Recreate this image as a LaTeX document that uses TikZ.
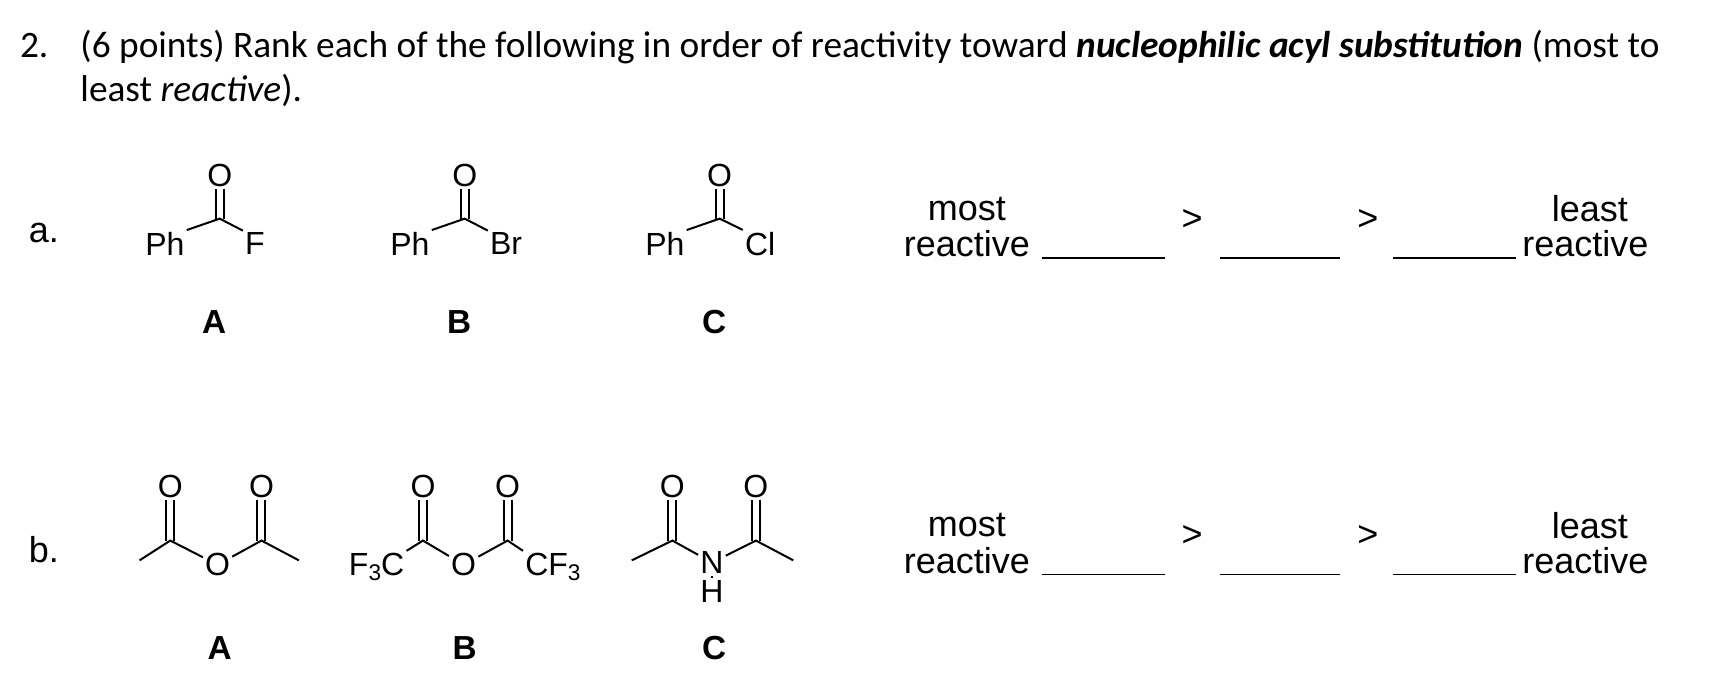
\documentclass[tikz,border=0pt]{standalone}
\usepackage{fontspec}
\setmainfont{Carlito}
\newfontfamily\chemf{Liberation Sans}
\newcommand{\sbs}[1]{\raisebox{-0.3ex}{\fontsize{17}{18}\selectfont #1}}
\begin{document}
\begin{tikzpicture}[x=0.824pt,y=-0.824pt,
  tt/.style={font=\fontsize{28}{32}\selectfont,anchor=base west,inner sep=0},
  atm/.style={font=\chemf\fontsize{24}{26}\selectfont,inner sep=1.5pt},
  lb/.style={font=\chemf\bfseries\fontsize{25}{26}\selectfont,inner sep=0},
  rx/.style={font=\chemf\fontsize{27}{28}\selectfont,inner sep=0},
  bd/.style={line width=1.5pt},
  bl/.style={line width=1.3pt}]
\useasboundingbox (0,0) rectangle (1560,624.2);
% title
\node[tt] (n2) at (18,52) {2.};
\node[tt] (t1) at (73,52) {(6 points) Rank each of the following in order of reactivity toward \textbf{\textit{nucleophilic acyl substitution}} (most to};
\node[tt] (t2) at (73,92) {least \textit{reactive}).};
% row a
\node[rx] (la) at (40,212) {a.};
\foreach \n/\x/\X/\lab in {A/200/F/A,B/423/Br/B,C/655/Cl/C}{
  \coordinate (c\n) at (\x,199);
  \node[atm] (o\n) at (\x,160) {O};
  \node[atm,anchor=east] (p\n) at (\x-30,222) {Ph};
  \node[atm,anchor=west] (x\n) at (\x+21,222) {\X};
  \node[lb] (l\n) at (\x-5,293) {\lab};
  \draw[bd] (p\n.north east) -- (c\n) -- (x\n.north west);
  \draw[bd] ([xshift=-3]c\n) -- ([xshift=-3]o\n.south);
  \draw[bd] ([xshift=3]c\n) -- ([xshift=3]o\n.south);
}
% row b
\node[rx] (lbb) at (40,500) {b.};
% A
\coordinate (bAm1) at (127,510); \coordinate (bAc1) at (155,492);
\node[atm] (bAo) at (198,514) {O};
\coordinate (bAc2) at (238,492); \coordinate (bAm2) at (272,510);
\node[atm] (bAo1) at (155,443) {O}; \node[atm] (bAo2) at (238,443) {O};
\draw[bd] (bAm1) -- (bAc1) -- (bAo) -- (bAc2) -- (bAm2);
% B
\node[atm,anchor=east] (bBf) at (370,516) {F\sbs{3}C};
\coordinate (bBc1) at (385,492);
\node[atm] (bBo) at (422,514) {O};
\coordinate (bBc2) at (462,492);
\node[atm,anchor=west] (bBcf) at (476,516) {CF\sbs{3}};
\node[atm] (bBo1) at (385,443) {O}; \node[atm] (bBo2) at (462,443) {O};
\draw[bd] (bBf.north east) -- (bBc1) -- (bBo) -- (bBc2) -- (bBcf.north west);
% C
\coordinate (bCm1) at (575,510); \coordinate (bCc1) at (612,492);
\node[atm] (bCn) at (648,512) {N};
\node[atm] (bCh) at (648,538) {H};
\coordinate (bCc2) at (688,492); \coordinate (bCm2) at (722,510);
\node[atm] (bCo1) at (612,443) {O}; \node[atm] (bCo2) at (688,443) {O};
\draw[bd] (bCm1) -- (bCc1) -- (bCn) -- (bCc2) -- (bCm2);
\draw[bd] (bCn) -- (bCh);
\foreach \c/\o in {bAc1/bAo1,bAc2/bAo2,bBc1/bBo1,bBc2/bBo2,bCc1/bCo1,bCc2/bCo2}{
  \draw[bd] ([xshift=-3]\c) -- ([xshift=-3]\o.south);
  \draw[bd] ([xshift=3]\c) -- ([xshift=3]\o.south);
}
\node[lb] (blA) at (200,590) {A};
\node[lb] (blB) at (423,590) {B};
\node[lb] (blC) at (650,590) {C};
% ranking rows
\foreach \r/\y in {a/0,b/288}{
  \node[rx] (m\r) at (880,190+\y) {most};
  \node[rx] (r\r) at (880,222+\y) {reactive};
  \node[rx] (le\r) at (1447,190+\y) {least};
  \node[rx] (rr\r) at (1443,222+\y) {reactive};
  \node[rx] (g1\r) at (1085,200+\y) {>};
  \node[rx] (g2\r) at (1245,200+\y) {>};
  \coordinate (s1\r) at (948,235+\y); \coordinate (e1\r) at (1060,235+\y);
  \coordinate (s2\r) at (1110,235+\y); \coordinate (e2\r) at (1220,235+\y);
  \coordinate (s3\r) at (1268,235+\y); \coordinate (e3\r) at (1380,235+\y);
  \draw[bl] (s1\r) -- (e1\r); \draw[bl] (s2\r) -- (e2\r); \draw[bl] (s3\r) -- (e3\r);
}
\end{tikzpicture}
\end{document}
